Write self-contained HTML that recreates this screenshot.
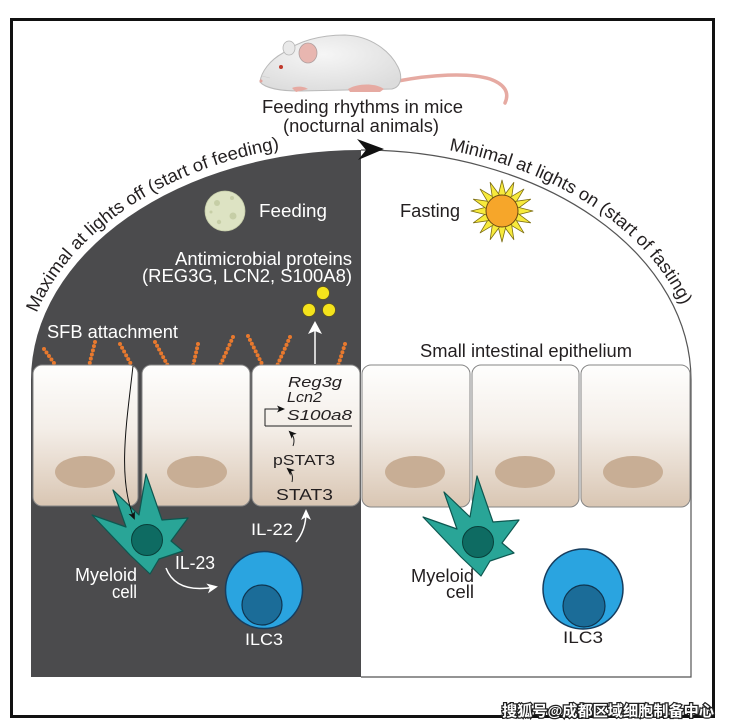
<!DOCTYPE html>
<html><head><meta charset="utf-8">
<style>
html,body{margin:0;padding:0;background:#fff;}
svg{display:block;}
text{font-family:"Liberation Sans",Arial,sans-serif;}
</style></head><body>
<svg width="729" height="727" viewBox="0 0 729 727" xmlns="http://www.w3.org/2000/svg">
<defs>
<linearGradient id="cg" x1="0" y1="0" x2="0" y2="1">
<stop offset="0" stop-color="#fefefd"/>
<stop offset="0.45" stop-color="#f4eee8"/>
<stop offset="1" stop-color="#d9c6b3"/>
</linearGradient>
<radialGradient id="mb" cx="0.45" cy="0.35" r="0.7">
<stop offset="0" stop-color="#f6f6f6"/>
<stop offset="1" stop-color="#dcdcdc"/>
</radialGradient>
<marker id="ab" markerWidth="8" markerHeight="8" refX="6" refY="4" orient="auto" markerUnits="userSpaceOnUse">
<path d="M0,0.5 L8,4 L0,7.5 L2,4 Z" fill="#111"/>
</marker>
<marker id="aw" markerWidth="11" markerHeight="11" refX="8" refY="5.5" orient="auto" markerUnits="userSpaceOnUse">
<path d="M0,0.5 L11,5.5 L0,10.5 L3,5.5 Z" fill="#fff"/>
</marker>
</defs>

<rect x="0" y="0" width="729" height="727" fill="#fff"/>

<!-- Mouse -->
<g>
<path d="M398,81 C430,75 468,72 490,79 C504,84 510,92 505,103" fill="none" stroke="#e6aaa2" stroke-width="3.5" stroke-linecap="round"/>
<path d="M260,82 C261,72 270,60 283,53 C298,41 320,35 345,35 C371,36 390,51 398,67 C403,77 401,87 392,89 L300,91 C284,91 266,89 260,82 Z" fill="url(#mb)" stroke="#b9b9b9" stroke-width="1"/>
<ellipse cx="289" cy="48" rx="6" ry="7" fill="#e9e9e9" stroke="#b5b5b5" stroke-width="0.8"/>
<ellipse cx="308" cy="53" rx="9" ry="10" fill="#e8b6b0" stroke="#b0a0a0" stroke-width="0.8"/>
<circle cx="281" cy="67" r="2" fill="#c0392b"/>
<circle cx="261" cy="81" r="1.5" fill="#e3a39c"/>
<path d="M292,88 C296,86 304,86 308,89 L296,92 Z" fill="#e6aaa2"/>
<path d="M348,89 C358,83 376,83 384,89 L380,92 L350,92 Z" fill="#e6aaa2"/>
<path d="M270,78 L262,76" stroke="#ccc" stroke-width="0.6"/>
</g>

<text x="262" y="113" font-size="18" fill="#231f20" textLength="201" lengthAdjust="spacingAndGlyphs">Feeding rhythms in mice</text>
<text x="283" y="132" font-size="18" fill="#231f20" textLength="156" lengthAdjust="spacingAndGlyphs">(nocturnal animals)</text>

<!-- Right panel -->
<path d="M361,150 A330 230 0 0 1 691,380 L691,677 L361,677" fill="#fff" stroke="#555" stroke-width="1.2"/>
<!-- Left dark dome -->
<path d="M31,677 L31,380 A330 230 0 0 1 361,150 L361,677 Z" fill="#4b4b4d"/>

<!-- Top arrowhead -->
<polygon points="357,139 384,149 358,160 366,150" fill="#111"/>

<!-- Curved labels -->
<path id="lp" d="M36.7,313 A338 238 0 0 1 285,148.1" fill="none"/>
<path id="rp" d="M449,150.2 A338 238 0 0 1 681.8,305" fill="none"/>
<text font-size="18" fill="#231f20"><textPath href="#lp" textLength="305" lengthAdjust="spacingAndGlyphs">Maximal at lights off (start of feeding)</textPath></text>
<text font-size="18" fill="#231f20"><textPath href="#rp" textLength="290" lengthAdjust="spacingAndGlyphs">Minimal at lights on (start of fasting)</textPath></text>

<!-- Moon -->
<circle cx="225" cy="211" r="20" fill="#dde3c3" stroke="#c2c9a6" stroke-width="0.8"/>
<circle cx="217" cy="203" r="3" fill="#c6cea6"/>
<circle cx="232" cy="198" r="2" fill="#c6cea6"/>
<circle cx="233" cy="216" r="3.5" fill="#c6cea6"/>
<circle cx="219" cy="222" r="2.2" fill="#c6cea6"/>
<circle cx="211" cy="212" r="1.5" fill="#c6cea6"/>
<text x="259" y="217" font-size="18" fill="#fff" textLength="68" lengthAdjust="spacingAndGlyphs">Feeding</text>

<!-- Sun -->
<g fill="#f7ea3c" stroke="#7c6d12" stroke-width="0.8" stroke-linejoin="round">
<polygon points="502,180 498,196 506,196" transform="rotate(0 502 211)"/>
<polygon points="502,180 498,196 506,196" transform="rotate(22.5 502 211)"/>
<polygon points="502,180 498,196 506,196" transform="rotate(45 502 211)"/>
<polygon points="502,180 498,196 506,196" transform="rotate(67.5 502 211)"/>
<polygon points="502,180 498,196 506,196" transform="rotate(90 502 211)"/>
<polygon points="502,180 498,196 506,196" transform="rotate(112.5 502 211)"/>
<polygon points="502,180 498,196 506,196" transform="rotate(135 502 211)"/>
<polygon points="502,180 498,196 506,196" transform="rotate(157.5 502 211)"/>
<polygon points="502,180 498,196 506,196" transform="rotate(180 502 211)"/>
<polygon points="502,180 498,196 506,196" transform="rotate(202.5 502 211)"/>
<polygon points="502,180 498,196 506,196" transform="rotate(225 502 211)"/>
<polygon points="502,180 498,196 506,196" transform="rotate(247.5 502 211)"/>
<polygon points="502,180 498,196 506,196" transform="rotate(270 502 211)"/>
<polygon points="502,180 498,196 506,196" transform="rotate(292.5 502 211)"/>
<polygon points="502,180 498,196 506,196" transform="rotate(315 502 211)"/>
<polygon points="502,180 498,196 506,196" transform="rotate(337.5 502 211)"/>
</g>
<circle cx="502" cy="211" r="16" fill="#f6a62a" stroke="#6a4a12" stroke-width="1"/>
<text x="400" y="217" font-size="18" fill="#231f20" textLength="60" lengthAdjust="spacingAndGlyphs">Fasting</text>

<!-- Antimicrobial -->
<text x="175" y="265" font-size="18" fill="#fff" textLength="177" lengthAdjust="spacingAndGlyphs">Antimicrobial proteins</text>
<text x="142" y="282" font-size="18" fill="#fff" textLength="210" lengthAdjust="spacingAndGlyphs">(REG3G, LCN2, S100A8)</text>
<g fill="#f4e31c" stroke="#5d5320" stroke-width="0.8">
<circle cx="323" cy="293" r="6.5"/>
<circle cx="309" cy="310" r="6.5"/>
<circle cx="329" cy="310" r="6.5"/>
</g>
<line x1="315" y1="364" x2="315" y2="330" stroke="#fff" stroke-width="1.5"/>
<polygon points="315,321 308,334 315,331 322,334" fill="#fff"/>

<text x="47" y="338" font-size="18" fill="#fff" textLength="131" lengthAdjust="spacingAndGlyphs">SFB attachment</text>

<!-- SFB filaments -->
<g stroke="#e8792e" stroke-width="4" stroke-linecap="round" stroke-dasharray="0 4.3" fill="none">
<line x1="44" y1="349" x2="56" y2="366"/>
<line x1="95" y1="342" x2="89" y2="366"/>
<line x1="120" y1="344" x2="132" y2="366"/>
<line x1="155" y1="342" x2="168" y2="366"/>
<line x1="198" y1="344" x2="193" y2="366"/>
<line x1="233" y1="337" x2="220" y2="366"/>
<line x1="248" y1="336" x2="263" y2="366"/>
<line x1="290" y1="337" x2="277" y2="366"/>
<line x1="345" y1="344" x2="338" y2="366"/>
</g>

<text x="420" y="357" font-size="18" fill="#231f20" textLength="212" lengthAdjust="spacingAndGlyphs">Small intestinal epithelium</text>

<!-- Cells -->
<g fill="url(#cg)" stroke="#858585" stroke-width="1">
<rect x="33" y="365" width="105" height="141" rx="9"/>
<rect x="142" y="365" width="108" height="141" rx="9"/>
<rect x="252" y="365" width="108" height="141" rx="9"/>
<rect x="362" y="365" width="108" height="142" rx="9"/>
<rect x="472" y="365" width="107" height="142" rx="9"/>
<rect x="581" y="365" width="109" height="142" rx="9"/>
</g>
<g fill="#c8ae95">
<ellipse cx="85" cy="472" rx="30" ry="16"/>
<ellipse cx="197" cy="472" rx="30" ry="16"/>
<ellipse cx="415" cy="472" rx="30" ry="16"/>
<ellipse cx="525" cy="472" rx="30" ry="16"/>
<ellipse cx="633" cy="472" rx="30" ry="16"/>
</g>

<!-- Cell 3 content -->
<text x="288" y="387" font-size="15" font-style="italic" fill="#231f20" textLength="54" lengthAdjust="spacingAndGlyphs">Reg3g</text>
<text x="287" y="402" font-size="15" font-style="italic" fill="#231f20" textLength="35" lengthAdjust="spacingAndGlyphs">Lcn2</text>
<text x="287" y="420" font-size="15" font-style="italic" fill="#231f20" textLength="65" lengthAdjust="spacingAndGlyphs">S100a8</text>
<line x1="265" y1="426" x2="352" y2="426" stroke="#222" stroke-width="1"/>
<path d="M265,426 L265,409 L283,409" fill="none" stroke="#222" stroke-width="1" marker-end="url(#ab)"/>
<path d="M293,446 Q296,438 290,432" fill="none" stroke="#222" stroke-width="1" marker-end="url(#ab)"/>
<text x="273" y="465" font-size="15" fill="#231f20" textLength="62" lengthAdjust="spacingAndGlyphs">pSTAT3</text>
<path d="M292,482 Q294,474 288,469" fill="none" stroke="#222" stroke-width="1" marker-end="url(#ab)"/>
<text x="276" y="500" font-size="16" fill="#231f20" textLength="57" lengthAdjust="spacingAndGlyphs">STAT3</text>

<!-- Left myeloid cell -->
<path d="M146,474 L162,520 L188,518 L171,541 L183,551 L159,559 L150,574 L130,555 L92,515 L126,527 L113,490 L139,515 Z" fill="#29a597" stroke="#0e5750" stroke-width="1.2" stroke-linejoin="round"/>
<circle cx="147" cy="540" r="15.5" fill="#0e6b62" stroke="#083f3a" stroke-width="1"/>
<path d="M133,366 C127,420 117,478 134,518" fill="none" stroke="#111" stroke-width="1" marker-end="url(#ab)"/>
<text x="75" y="581" font-size="18" fill="#fff" textLength="62" lengthAdjust="spacingAndGlyphs">Myeloid</text>
<text x="112" y="598" font-size="18" fill="#fff" textLength="25" lengthAdjust="spacingAndGlyphs">cell</text>
<text x="175" y="569" font-size="18" fill="#fff" textLength="40" lengthAdjust="spacingAndGlyphs">IL-23</text>
<path d="M166,568 Q176,594 215,587" fill="none" stroke="#fff" stroke-width="1.5" marker-end="url(#aw)"/>

<!-- Left ILC3 -->
<circle cx="264" cy="590" r="38.5" fill="#2aa4e0" stroke="#173d5e" stroke-width="1.5"/>
<circle cx="262" cy="605" r="20" fill="#1b6c98" stroke="#0f3550" stroke-width="1.2"/>
<text x="245" y="645" font-size="17" fill="#fff" textLength="38" lengthAdjust="spacingAndGlyphs">ILC3</text>
<text x="251" y="535" font-size="17" fill="#fff" textLength="42" lengthAdjust="spacingAndGlyphs">IL-22</text>
<path d="M296,542 Q306,530 306,512" fill="none" stroke="#fff" stroke-width="1.5" marker-end="url(#aw)"/>

<!-- Right myeloid cell -->
<g transform="translate(331,2)">
<path d="M146,474 L162,520 L188,518 L171,541 L183,551 L159,559 L150,574 L130,555 L92,515 L126,527 L113,490 L139,515 Z" fill="#29a597" stroke="#0e5750" stroke-width="1.2" stroke-linejoin="round"/>
<circle cx="147" cy="540" r="15.5" fill="#0e6b62" stroke="#083f3a" stroke-width="1"/>
</g>
<text x="411" y="582" font-size="18" fill="#231f20" textLength="63" lengthAdjust="spacingAndGlyphs">Myeloid</text>
<text x="446" y="598" font-size="18" fill="#231f20" textLength="28" lengthAdjust="spacingAndGlyphs">cell</text>

<!-- Right ILC3 -->
<circle cx="583" cy="589" r="40" fill="#2aa4e0" stroke="#173d5e" stroke-width="1.5"/>
<circle cx="584" cy="606" r="21" fill="#1b6c98" stroke="#0f3550" stroke-width="1.2"/>
<text x="563" y="643" font-size="17" fill="#231f20" textLength="40" lengthAdjust="spacingAndGlyphs">ILC3</text>

<!-- Frame -->
<rect x="11.5" y="19.5" width="702" height="697" fill="none" stroke="#111" stroke-width="3"/>

<!-- Watermark -->
<text x="502" y="716" font-size="15" font-weight="bold" fill="#fff" stroke="#222" stroke-width="2.5" paint-order="stroke" textLength="212" lengthAdjust="spacingAndGlyphs" style='font-family:"Liberation Sans","Noto Sans CJK SC",sans-serif'>搜狐号@成都区域细胞制备中心</text>
</svg>
</body></html>
